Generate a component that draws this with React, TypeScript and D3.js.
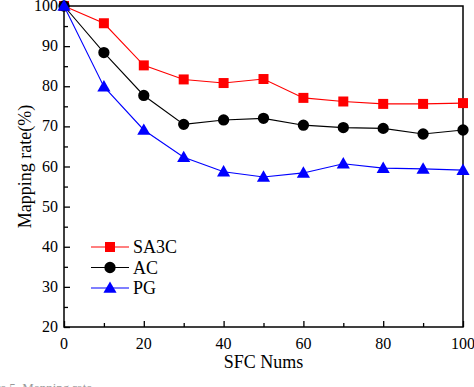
import { useEffect, useRef } from 'react';
import * as d3 from 'd3';

const sfcNums = [0, 10, 20, 30, 40, 50, 60, 70, 80, 90, 100];
const sa3c = [100, 95.7, 85.2, 81.7, 80.8, 81.8, 77.1, 76.2, 75.6, 75.6, 75.8];
const ac = [100, 88.4, 77.7, 70.5, 71.6, 72.0, 70.3, 69.7, 69.5, 68.1, 69.1];
const pg = [100, 79.9, 69.1, 62.3, 58.7, 57.4, 58.4, 60.7, 59.6, 59.4, 59.1];
const xTicks = [0, 20, 40, 60, 80, 100];
const yTicks = [20, 30, 40, 50, 60, 70, 80, 90, 100];

const seriesList = [
  { name: 'SA3C', values: sa3c, color: '#ff0000', shape: 'square' },
  { name: 'AC', values: ac, color: '#000000', shape: 'circle' },
  { name: 'PG', values: pg, color: '#0000ff', shape: 'triangle' },
];

export default function App() {
  const svgRef = useRef<SVGSVGElement>(null);

  useEffect(() => {
    if (!svgRef.current) return;
    const width = 474;
    const height = 387;
    const margin = { top: 6, right: 11, bottom: 60, left: 64 };
    const font = 'Liberation Serif, DejaVu Serif, serif';

    const svg = d3.select(svgRef.current);
    svg.selectAll('*').remove();
    svg.attr('font-family', font);

    const x = d3.scaleLinear().domain([0, 100]).range([margin.left, width - margin.right]);
    const y = d3.scaleLinear().domain([20, 100]).range([height - margin.bottom, margin.top]);

    const markerPath = (shape: string) => {
      if (shape === 'square') return d3.symbol(d3.symbolSquare, 100)();
      if (shape === 'circle') return d3.symbol(d3.symbolCircle, 100)();
      return d3.symbol(d3.symbolTriangle, 75)();
    };

    // frame
    svg
      .append('rect')
      .attr('x', margin.left)
      .attr('y', margin.top)
      .attr('width', x(100) - x(0))
      .attr('height', y(20) - y(100))
      .attr('fill', 'none')
      .attr('stroke', '#000')
      .attr('stroke-width', 1.5);

    // inward ticks
    const xAxis = svg
      .append('g')
      .attr('transform', `translate(0, ${y(20)})`)
      .call(d3.axisBottom(x).tickValues(d3.range(0, 101, 10)).tickSize(-5).tickFormat(() => ''));
    xAxis.select('.domain').remove();
    xAxis.selectAll('line').attr('stroke-width', 1.3).attr('y2', (d: any) => (d % 20 === 0 ? -6 : -4));

    const yAxis = svg
      .append('g')
      .attr('transform', `translate(${x(0)}, 0)`)
      .call(d3.axisLeft(y).tickValues(d3.range(20, 101, 5)).tickSize(-5).tickFormat(() => ''));
    yAxis.select('.domain').remove();
    yAxis.selectAll('line').attr('stroke-width', 1.3).attr('x2', (d: any) => (d % 10 === 0 ? 6 : 4));

    svg
      .append('g')
      .selectAll('text')
      .data(xTicks)
      .enter()
      .append('text')
      .attr('x', (d) => x(d))
      .attr('y', y(20) + 22)
      .attr('text-anchor', 'middle')
      .attr('font-family', font)
      .attr('font-size', 16)
      .text((d) => d);

    svg
      .append('g')
      .selectAll('text')
      .data(yTicks)
      .enter()
      .append('text')
      .attr('x', x(0) - 6)
      .attr('y', (d) => y(d) + 5)
      .attr('text-anchor', 'end')
      .attr('font-family', font)
      .attr('font-size', 16)
      .text((d) => d);

    svg
      .append('text')
      .attr('x', (x(0) + x(100)) / 2)
      .attr('y', 368)
      .attr('text-anchor', 'middle')
      .attr('font-family', font)
      .attr('font-size', 18)
      .text('SFC Nums');

    svg
      .append('text')
      .attr('transform', `translate(31, ${(y(20) + y(100)) / 2}) rotate(-90)`)
      .attr('text-anchor', 'middle')
      .attr('font-family', font)
      .attr('font-size', 18)
      .text('Mapping rate(%)');

    svg
      .append('text')
      .attr('x', -4)
      .attr('y', 392)
      .attr('font-family', font)
      .attr('font-size', 13)
      .attr('fill', '#999')
      .text('re 5. Mapping rate');

    const line = d3
      .line<number>()
      .x((_, i) => x(sfcNums[i]))
      .y((d) => y(d));

    seriesList.forEach((s) => {
      svg
        .append('path')
        .datum(s.values)
        .attr('d', line)
        .attr('fill', 'none')
        .attr('stroke', s.color)
        .attr('stroke-width', 1.1);

      svg
        .append('g')
        .selectAll('path')
        .data(s.values)
        .enter()
        .append('path')
        .attr('d', markerPath(s.shape))
        .attr('transform', (d, i) => `translate(${x(sfcNums[i])}, ${y(d) + (s.shape === 'triangle' ? 1 : 0)})`)
        .attr('fill', s.color);
    });

    // legend
    const legend = svg.append('g');
    seriesList.forEach((s, i) => {
      const ly = 247 + i * 20.5;
      legend
        .append('line')
        .attr('x1', 91)
        .attr('x2', 129)
        .attr('y1', ly)
        .attr('y2', ly)
        .attr('stroke', s.color)
        .attr('stroke-width', 1.1);
      legend
        .append('path')
        .attr('d', markerPath(s.shape))
        .attr('transform', `translate(110, ${ly + (s.shape === 'triangle' ? 1 : 0)})`)
        .attr('fill', s.color);
      legend
        .append('text')
        .attr('x', 133)
        .attr('y', ly + 6)
        .attr('font-family', font)
        .attr('font-size', 18)
        .text(s.name);
    });
  }, []);

  return (
    <div style={{ position: 'fixed', left: 0, top: 0, background: '#fff' }}>
      <svg ref={svgRef} width={474} height={387} style={{ display: 'block' }} />
    </div>
  );
}
